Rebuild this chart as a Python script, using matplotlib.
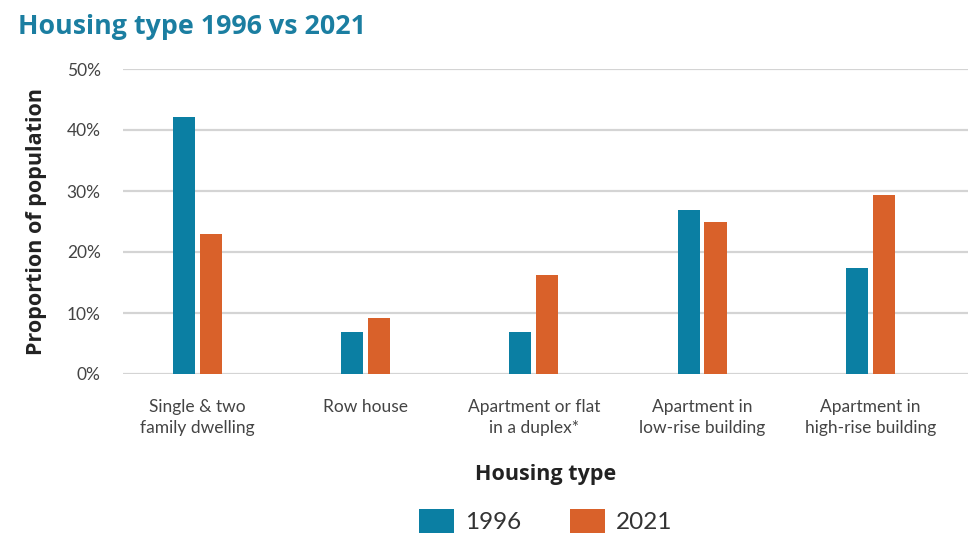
import matplotlib
matplotlib.use("Agg")
import matplotlib.pyplot as plt
from matplotlib.patches import Patch
import numpy as np

categories = ["Single & two\nfamily dwelling", "Row house", "Apartment or flat\nin a duplex*",
              "Apartment in\nlow-rise building", "Apartment in\nhigh-rise building"]
series_names = ["1996", "2021"]
values_1996 = [42.1, 6.9, 6.9, 26.9, 17.3]
values_2021 = [22.9, 9.2, 16.2, 24.9, 29.3]
yticks = [0, 10, 20, 30, 40, 50]
ytick_labels = ["0%", "10%", "20%", "30%", "40%", "50%"]

c1996 = "#0b7fa3"
c2021 = "#d9612a"
title_color = "#1b7ea1"
text_color = "#444444"

plt.rcParams['font.family'] = ['Lato', 'DejaVu Sans']

fig = plt.figure(figsize=(9.8, 5.54), dpi=100)
ax = fig.add_axes([123/980, 1-374/554, (968-123)/980, (374-69)/554])

x = np.arange(len(categories))
w = 0.131
off = 0.080
ax.bar(x - off, values_1996, width=w, color=c1996, zorder=3)
ax.bar(x + off, values_2021, width=w, color=c2021, zorder=3)

ax.set_xlim(-0.44, 4.58)
ax.set_ylim(0, 50)
ax.set_yticks(yticks)
ax.set_yticklabels(ytick_labels, fontsize=12.5, color=text_color)
ax.set_xticks(x)
ax.set_xticklabels(categories, fontsize=12.5, color=text_color, linespacing=1.4)
ax.tick_params(axis='both', length=0)
ax.tick_params(axis='y', pad=16)
ax.tick_params(axis='x', pad=18)
for s in ax.spines.values():
    s.set_visible(False)
ax.grid(axis='y', color='#d4d4d4', linewidth=1.6, zorder=0)
ax.set_axisbelow(True)

ax.set_ylabel("Proportion of population", fontsize=15.5, fontweight='bold', color='#222222',
              labelpad=14, family=['Open Sans', 'DejaVu Sans'])
ax.set_xlabel("Housing type", fontsize=15.5, fontweight='bold', color='#222222', labelpad=20,
              family=['Open Sans', 'DejaVu Sans'])

fig.text(18/980, 1-27/554, "Housing type 1996 vs 2021", fontsize=19.3, fontweight='bold',
         color=title_color, va='center', ha='left', family=['Open Sans', 'DejaVu Sans'])

handles = [Patch(facecolor=c1996), Patch(facecolor=c2021)]
fig.legend(handles, series_names, loc='center', bbox_to_anchor=(546/980, 1-521/554), ncol=2,
           frameon=False, fontsize=17.5, handlelength=1.45, handleheight=1.2,
           columnspacing=2.0, handletextpad=0.45, labelcolor='#333333')

fig.savefig("out.png", dpi=100, facecolor='white')
